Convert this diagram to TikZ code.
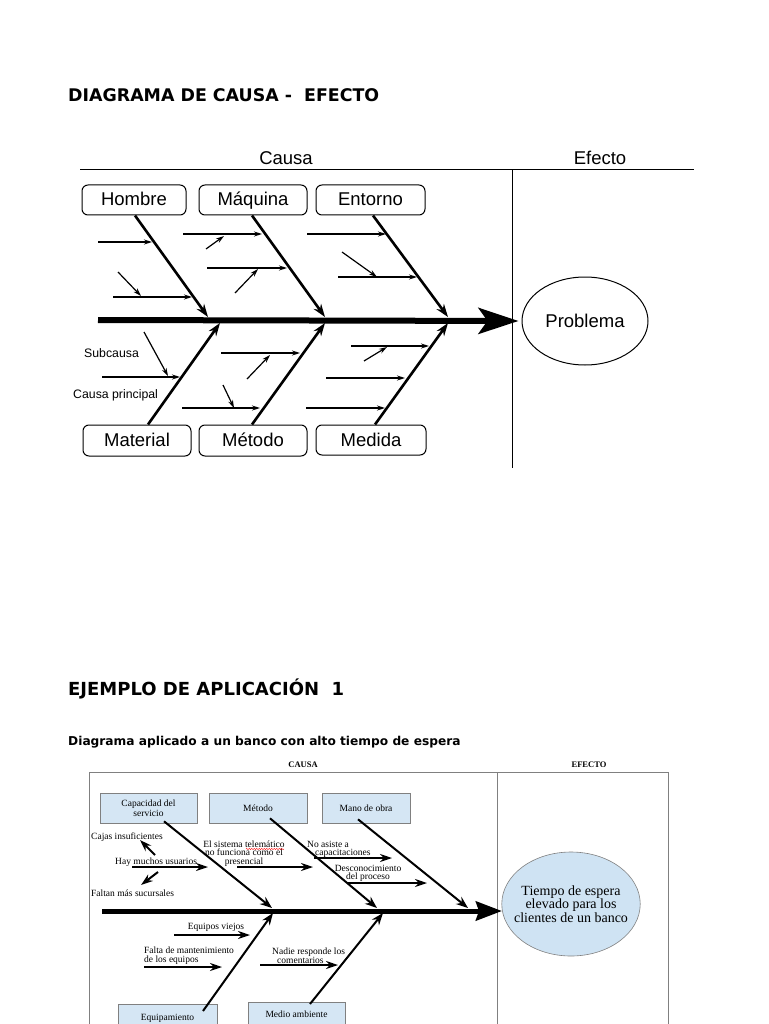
\documentclass[tikz,border=0pt]{standalone}
\usepackage{fontspec}
\setmainfont{Liberation Serif}
\setsansfont{Liberation Sans}
\newfontfamily\heavy{DejaVu Sans}
\usetikzlibrary{arrows.meta,shapes.geometric,decorations.pathmorphing}
\definecolor{boxblue}{HTML}{D5E6F4}
\definecolor{ellblue}{HTML}{CFE3F3}
\definecolor{framegray}{HTML}{808080}
\begin{document}
\begin{tikzpicture}[x=1pt,y=-1pt,
  ttl/.style={font=\heavy\bfseries\fontsize{17.4}{20}\selectfont,anchor=west,inner sep=0},
  lbl/.style={font=\sffamily\fontsize{18.5}{20}\selectfont,inner sep=0},
  small/.style={font=\sffamily\fontsize{12.3}{14}\selectfont,anchor=west,inner sep=0},
  cbox/.style={draw,rounded corners=6pt,line width=1pt,font=\sffamily\fontsize{18.5}{20}\selectfont,inner sep=0,minimum height=30pt,text height=14pt,text depth=2pt},
  bone/.style={line width=2.6pt,-{Stealth[length=13pt,width=9pt]}},
  sub/.style={line width=1.2pt,-{Stealth[length=8pt,width=5pt]}},
  bbox/.style={draw=framegray,fill=boxblue,line width=0.6pt,font=\fontsize{9.5}{10.5}\selectfont,align=center,inner sep=0,minimum height=30pt},
  blbl/.style={font=\fontsize{9.5}{8.6}\selectfont,align=center,inner sep=0},
  bhead/.style={font=\bfseries\fontsize{8.5}{10}\selectfont,inner sep=0},
  bbone/.style={line width=2pt,-{Stealth[length=12pt,width=9pt]}},
  bsub/.style={line width=2pt,-{Stealth[length=12pt,width=8pt]}},
]
\useasboundingbox (0,0) rectangle (768,1024);
\clip (0,0) rectangle (768,1024);

% ---------------- top diagram ----------------
\node[ttl] (t1) at (68,95) {DIAGRAMA DE CAUSA -\ \ EFECTO};
\node[lbl] (causa) at (286,158) {Causa};
\node[lbl] (efecto) at (600,158) {Efecto};
\draw[line width=1pt] (80,170) -- (694,170);
\draw[line width=1pt] (512,170) -- (512,468);

\node[cbox,minimum width=104pt] (hom) at (134,200) {Hombre};
\node[cbox,minimum width=108pt] (maq) at (253,200) {Máquina};
\node[cbox,minimum width=109pt] (ent) at (370.5,200) {Entorno};
\node[cbox,minimum width=108pt,minimum height=31pt] (mat) at (137,440.5) {Material};
\node[cbox,minimum width=108pt,minimum height=31pt] (met) at (253,440.5) {Método};
\node[cbox,minimum width=110pt] (med) at (371,440) {Medida};

\node[draw,ellipse,line width=1pt,minimum width=126pt,minimum height=88pt,inner sep=0,font=\sffamily\fontsize{18.5}{20}\selectfont] (prob) at (585,321) {Problema};

\coordinate (s0) at (98,320);
\coordinate (j1) at (208,317);
\coordinate (j2) at (325,317);
\coordinate (j3) at (448,317);
\coordinate (k1) at (220,323);
\coordinate (k2) at (325,323);
\coordinate (k3) at (448,323);

\draw[line width=6pt,-{Stealth[length=40pt,width=26pt,inset=9pt]},shorten >=3pt] (s0) -- (prob.west);

\draw[bone] ([xshift=1pt]hom.south) -- (j1);
\draw[bone] ([xshift=-1pt]maq.south) -- (j2);
\draw[bone] ([xshift=2.5pt]ent.south) -- (j3);
\draw[bone] ([xshift=11pt]mat.north) -- (k1);
\draw[bone] ([xshift=-1pt]met.north) -- (k2);
\draw[bone] ([xshift=4pt]med.north) -- (k3);

% sub-causes (top)
\draw[sub] (98,242) -- (152,242);
\draw[sub] (113,297) -- (192,297);
\draw[sub] (118,272) -- (141,296);
\draw[sub] (183,234) -- (262,234);
\draw[sub] (206,249) -- (224,236);
\draw[sub] (207,268) -- (287,268);
\draw[sub] (235,293) -- (258,269);
\draw[sub] (307,234) -- (386,234);
\draw[sub] (342,252) -- (377,277);
\draw[sub] (338,277) -- (417,277);
% sub-causes (bottom)
\draw[sub] (144,332) -- (168,376);
\draw[sub] (102,377) -- (180,377);
\draw[sub] (221,353) -- (300,353);
\draw[sub] (247,379) -- (270,355);
\draw[sub] (223,385) -- (234,408);
\draw[sub] (182,408) -- (260,408);
\draw[sub] (351,346) -- (429,346);
\draw[sub] (364,361) -- (387,347);
\draw[sub] (326,378) -- (405,378);
\draw[sub] (306,408) -- (385,408);

\node[small] (subc) at (84,353) {Subcausa};
\node[small] (cprin) at (73,395) {Causa principal};

% ---------------- bottom diagram ----------------
\node[ttl,font=\heavy\bfseries\fontsize{18}{20}\selectfont] (t2) at (68,689) {EJEMPLO DE APLICACIÓN\ \ 1};
\node[ttl,font=\heavy\bfseries\fontsize{12.2}{15}\selectfont] (t3) at (68,742) {Diagrama aplicado a un banco con alto tiempo de espera};

\node[bhead] (bcausa) at (303,765) {CAUSA};
\node[bhead] (befecto) at (589,765) {EFECTO};
\draw[framegray,line width=0.8pt] (89,1040) -- (89,772) -- (668,772) -- (668,1040);
\draw[framegray,line width=0.8pt] (497,772) -- (497,1040);

\node[bbox,minimum width=97pt] (cap) at (148.5,808) {Capacidad del\\servicio};
\node[bbox,minimum width=98pt] (bmet) at (258,808) {Método};
\node[bbox,minimum width=88pt] (mano) at (366,808) {Mano de obra};
\node[bbox,minimum width=99pt,minimum height=40pt,anchor=north] (equ) at (167.5,1004) {};
\node[bbox,minimum width=97pt,minimum height=40pt,anchor=north] (mamb) at (296.5,1002) {};
\node[blbl,anchor=base] (equt) at (167.5,1020.5) {Equipamiento};
\node[blbl,anchor=base] (mambt) at (296.5,1017.5) {Medio ambiente};

\node[draw=framegray,fill=ellblue,ellipse,line width=0.6pt,minimum width=137pt,minimum height=104pt,inner sep=-8pt,align=center,font=\fontsize{14}{12.4}\selectfont] (tiem) at (571,904) {Tiempo de espera\\elevado para los\\clientes de un banco};

\coordinate (bs0) at (102,911);
\coordinate (bs1) at (502,911);
\draw[line width=5pt,-{Stealth[length=26pt,width=19pt,inset=3pt]}] (bs0) -- (bs1);

\coordinate (bj1) at (272,908);
\coordinate (bj2) at (377,908);
\coordinate (bj3) at (468,908);
\coordinate (bk1) at (273,913);
\coordinate (bk2) at (383,913);
\draw[bbone] ([xshift=15.5pt,yshift=2pt]cap.south) -- (bj1);
\draw[bbone] ([xshift=12pt,yshift=5pt]bmet.south) -- (bj2);
\draw[bbone] ([xshift=-8pt,yshift=4pt]mano.south) -- (bj3);
\draw[bbone] ([xshift=35.5pt,yshift=-7pt]equ.north) -- (bk1);
\draw[bbone] ([xshift=13.5pt,yshift=-2pt]mamb.north) -- (bk2);

% labels and sub-arrows (bottom diagram)
\node[blbl,anchor=west] (l1) at (91,837) {Cajas insuficientes};
\node[blbl,anchor=west] (l2) at (115,862) {Hay muchos usuarios};
\node[blbl,anchor=west] (l3) at (91,893) {Faltan más sucursales};
\node[blbl] (l4) at (244,853.5) {El sistema telemático\\no funciona como el\\presencial};
\node[blbl,anchor=west] (l5a) at (307,844) {No asiste a};
\node[blbl,anchor=west] (l5b) at (315,853) {capacitaciones};
\node[blbl] (l6) at (368,873.5) {Desconocimiento\\del proceso};
\node[blbl] (l7) at (216,927) {Equipos viejos};
\node[blbl,align=left,anchor=west] (l8) at (144,956) {Falta de mantenimiento\\de los equipos};
\node[blbl,anchor=west] (l9a) at (272,952) {Nadie responde los};
\node[blbl,anchor=west] (l9b) at (277,960) {comentarios};
\draw[red,line width=0.4pt,decorate,decoration={snake,amplitude=0.6pt,segment length=2.5pt}] (246,849) -- (284,849);

\draw[bsub] (155,855) -- (140,840);
\draw[bsub] (132,867) -- (208,867);
\draw[bsub] (158,872) -- (141,885);
\draw[bsub] (237,867) -- (313,867);
\draw[bsub] (314,858) -- (392,858);
\draw[bsub] (348,883) -- (427,883);
\draw[bsub] (174,935) -- (250,935);
\draw[bsub] (144,967) -- (222,967);
\draw[bsub] (260,965) -- (338,965);
\end{tikzpicture}
\end{document}
